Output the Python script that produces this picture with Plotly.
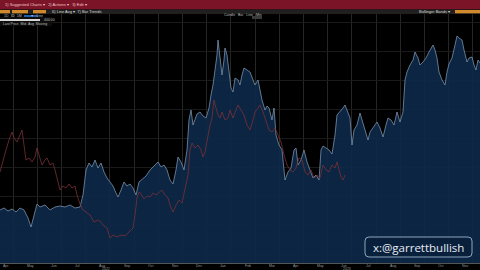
import plotly.graph_objects as go

# ---------------- data ----------------
blue_x = [0, 4, 8, 12, 16, 20, 24, 28, 31, 34, 37, 40, 45, 50, 55, 60, 65, 70, 75, 80, 83, 86, 89, 92, 95, 98,
          101, 104, 107, 110, 113, 116, 118, 121, 124, 127, 130, 133, 136, 139, 142, 146, 150, 154, 158, 161,
          164, 167, 170, 173, 176, 178, 181, 184, 187, 189, 191, 193, 195, 197, 200, 203, 206, 209, 211, 213,
          215, 217, 218, 220, 222, 224, 225, 227, 229, 231, 233, 235, 238, 240, 242, 244, 247, 250, 253, 255,
          258, 260, 262, 265, 267, 269, 272, 274, 276, 279, 282, 285, 288, 291, 294, 296, 298, 301, 304, 307,
          310, 313, 316, 319, 321, 323, 326, 329, 332, 335, 337, 340, 343, 345, 347, 350, 352, 354, 357, 360,
          362, 365, 368, 370, 373, 377, 380, 383, 386, 388, 391, 394, 397, 400, 403, 405, 407, 410, 413, 415,
          418, 420, 423, 426, 429, 431, 433, 435, 437, 439, 442, 445, 447, 449, 452, 455, 457, 459, 462, 464,
          467, 469, 472, 474, 476, 478, 480]
blue_v = [53, 55, 52, 54, 51, 55, 53, 45, 36, 49, 59, 56, 58, 53, 56, 57, 56, 58, 55, 56, 68, 93, 100, 96, 103, 95,
          100, 91, 85, 81, 77, 70, 66, 73, 81, 77, 79, 75, 68, 81, 84, 87, 93, 97, 101, 96,
          98, 93, 83, 79, 93, 106, 101, 93, 113, 143, 153, 138, 143, 149, 151, 147, 145, 155, 168, 178,
          193, 208, 223, 205, 188, 203, 215, 208, 191, 175, 171, 185, 183, 178, 188, 195, 193, 191, 183, 178,
          183, 171, 163, 153, 157, 155, 143, 155, 128, 118, 113, 83, 91, 95, 113, 115, 98, 103, 113, 101,
          93, 85, 88, 83, 113, 117, 115, 113, 109, 128, 148, 151, 155, 158, 153, 145, 118, 133, 138, 150,
          143, 133, 123, 131, 135, 141, 135, 126, 138, 145, 143, 138, 151, 141, 151, 183, 191, 198, 203, 211,
          205, 198, 201, 205, 211, 215, 218, 213, 205, 191, 183, 178, 191, 199, 205, 218, 227, 225, 223, 213,
          201, 205, 206, 198, 193, 203, 200]

red_x = [0, 3, 6, 9, 12, 14, 17, 20, 22, 24, 26, 29, 32, 35, 37, 39, 42, 45, 47, 50, 53, 55, 57, 60, 63, 66,
         69, 72, 75, 77, 80, 83, 86, 90, 94, 98, 101, 104, 107, 110, 113, 117, 121, 125, 129, 133, 135, 137,
         139, 141, 144, 147, 150, 153, 156, 159, 162, 165, 168, 171, 173, 176, 179, 182, 185, 188, 190, 192,
         195, 198, 201, 203, 205, 208, 210, 212, 214, 216, 218, 220, 222, 225, 228, 230, 233, 236, 238, 241,
         244, 247, 250, 253, 255, 258, 260, 263, 266, 269, 272, 275, 278, 281, 284, 287, 290, 293, 296, 299,
         302, 305, 308, 311, 314, 317, 320, 323, 326, 329, 332, 335, 337, 339, 341, 343, 345]
red_v = [91, 103, 113, 123, 131, 125, 121, 128, 133, 118, 103, 105, 101, 106, 115, 108, 98, 103, 105, 98, 100, 93,
         85, 73, 77, 75, 79, 75, 77, 68, 59, 53, 51, 48, 41, 43, 41, 37, 35, 25, 28, 26, 28, 27, 31, 35, 48, 65,
         71, 69, 64, 67, 66, 70, 68, 71, 73, 68, 65, 55, 51, 58, 63, 60, 73, 88, 113, 120, 115, 118, 113, 106,
         111, 128, 138, 145, 163, 155, 148, 145, 151, 143, 145, 153, 145, 153, 158, 153, 148, 138, 133, 143,
         151, 155, 158, 151, 143, 133, 131, 135, 128, 121, 108, 98, 93, 91, 95, 105, 103, 91, 88, 93, 85, 88,
         85, 98, 93, 91, 98, 95, 101, 93, 86, 83, 88]

month_labels = ["Apr", "May", "Jun", "Jul", "Aug", "Sep", "Oct", "Nov", "Dec", "Jan", "Feb", "Mar",
                "Apr", "May", "Jun", "Jul", "Aug", "Sep", "Oct", "Nov"]
year_labels = ["2022", "2023"]

# ---------------- layout helpers ----------------
W, H = 480, 270
TOP, BOT = 14, 263  # plot area pixel rows


def py(p):  # pixel row -> paper y
    return (BOT - p) / (BOT - TOP)


def px(p):  # pixel col -> paper x
    return p / W


fig = go.Figure()
fig.add_trace(go.Scatter(x=blue_x, y=blue_v, mode="lines", fill="tozeroy",
                         line=dict(color="#7890aa", width=0.8),
                         fillcolor="rgba(12,40,72,0.92)", hoverinfo="skip"))
fig.add_trace(go.Scatter(x=red_x, y=red_v, mode="lines",
                         line=dict(color="#7a3036", width=0.8), hoverinfo="skip"))

grid_x = [13 + 24.2 * k for k in range(20)]
shapes = []
annotations = []


def note(x, y, text, font, xanchor="left", xref="paper"):
    annotations.append(dict(xref=xref, yref="paper", x=x, y=y, text=text, showarrow=False,
                            xanchor=xanchor, yanchor="middle", font=font))


# header bars
shapes.append(dict(type="rect", xref="paper", yref="paper", x0=0, x1=1, y0=py(9.5), y1=py(0),
                   fillcolor="#7c1428", line_width=0, layer="above"))
shapes.append(dict(type="rect", xref="paper", yref="paper", x0=0, x1=1, y0=py(14), y1=py(9.5),
                   fillcolor="#202020", line_width=0, layer="above"))
for a, b in [(0, 10), (12, 28), (33, 46)]:
    shapes.append(dict(type="rect", xref="paper", yref="paper", x0=px(a), x1=px(b), y0=py(13.3), y1=py(10),
                       fillcolor="#d08a2c", line_width=0, layer="above"))
shapes.append(dict(type="rect", xref="paper", yref="paper", x0=px(455), x1=1, y0=py(13.3), y1=py(10),
                   fillcolor="#d08a2c", line_width=0, layer="above"))
# toolbar row / legend box
shapes.append(dict(type="rect", xref="paper", yref="paper", x0=px(24), x1=px(38), y0=py(18), y1=py(15),
                   fillcolor="#1d5fae", line_width=0, layer="above"))
shapes.append(dict(type="rect", xref="paper", yref="paper", x0=px(0), x1=px(52), y0=py(26), y1=py(17),
                   fillcolor="#0d0d0d", line_width=0, layer="above"))
shapes.append(dict(type="rect", xref="paper", yref="paper", x0=px(0), x1=px(40), y0=py(21), y1=py(19),
                   fillcolor="#d8d8d8", line_width=0, layer="above"))
shapes.append(dict(type="rect", xref="paper", yref="paper", x0=px(252), x1=px(262), y0=py(19), y1=py(16),
                   fillcolor="#3a3a3a", line_width=0, layer="above"))

# watermark box (rounded rectangle)
x0, x1, y0, y1, r = px(365), px(472), py(257), py(237), 4
rx, ry = r / W, r / (BOT - TOP)
path = (f"M {x0+rx},{y1} L {x1-rx},{y1} Q {x1},{y1} {x1},{y1-ry} L {x1},{y0+ry} Q {x1},{y0} {x1-rx},{y0} "
        f"L {x0+rx},{y0} Q {x0},{y0} {x0},{y0+ry} L {x0},{y1-ry} Q {x0},{y1} {x0+rx},{y1} Z")
shapes.append(dict(type="path", xref="paper", yref="paper", path=path,
                   fillcolor="rgba(10,30,58,0.55)", line=dict(color="#8ea4bc", width=1), layer="above"))
note(px(418.5), py(247), "x:@garrettbullish",
     dict(family="Open Sans", size=11.5, color="#e6ecf2"), xanchor="center")

tiny = dict(family="Liberation Sans", size=4, color="#d9d9d9")
small = dict(family="Liberation Sans", size=3.5, color="#bbbbbb")
note(px(3), py(4.7), "1) Suggested Charts ▾   2) Actions ▾   3) Edit ▾",
     dict(family="Liberation Sans", size=4, color="#f0c8c8"))
note(px(50), py(11.8), "6) Line Avg ▾  7) Bar Trends", tiny)
note(px(452), py(11.8), "Bollinger Bands ▾", tiny, xanchor="right")
note(px(222), py(15.5), "Candle   Bar   Line   Mtn", small)
note(px(2), py(16), "1D  3D  1M          ▾   Line", small)
note(px(42), py(20), "400.00", small)
note(px(1), py(23.5), "Last Price  Mid  Avg  Moving", small)

# axis labels
axf = dict(family="Liberation Sans", size=3.5, color="#9a9a9a")
for k, lab in enumerate(month_labels):
    note(0.5 + 24.2 * k, py(265.5), lab, axf, xanchor="left", xref="x")
for xx, lab in zip([106, 347], year_labels):
    note(xx, py(268.5), lab, axf, xanchor="center", xref="x")

fig.update_layout(
    width=W, height=H, margin=dict(l=0, r=0, t=TOP, b=H - BOT),
    paper_bgcolor="#000000", plot_bgcolor="#000000", showlegend=False,
    shapes=shapes, annotations=annotations,
    xaxis=dict(range=[0, 480], tickvals=grid_x, showticklabels=False, showgrid=True,
               gridcolor="#262626", gridwidth=1, zeroline=False, showline=True, linecolor="#555555",
               linewidth=1, fixedrange=True),
    yaxis=dict(range=[0, 249], tick0=9, dtick=29, showticklabels=False, showgrid=True,
               gridcolor="#1a1a1a", gridwidth=1, zeroline=False, fixedrange=True),
)

fig.write_html("out.html", config={"displayModeBar": False})
